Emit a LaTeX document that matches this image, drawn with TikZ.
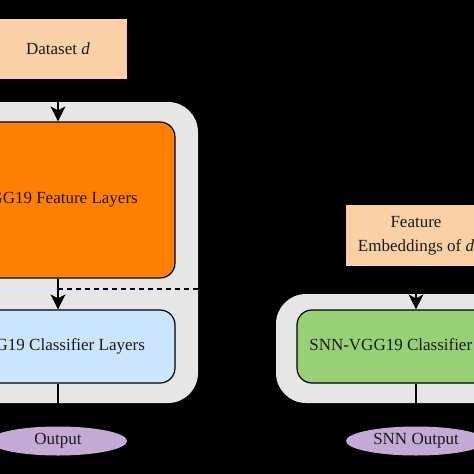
\documentclass[tikz,border=0pt]{standalone}
\usepackage{fontspec}
\setmainfont{Liberation Serif}
\usetikzlibrary{shapes, arrows.meta}
\definecolor{peach}{RGB}{250,208,166}
\definecolor{panelgray}{RGB}{230,230,230}
\definecolor{featorange}{RGB}{255,128,0}
\definecolor{clsblue}{RGB}{204,229,255}
\definecolor{snngreen}{RGB}{151,208,119}
\definecolor{outlilac}{RGB}{196,170,212}
\definecolor{inktext}{RGB}{26,26,26}

\begin{document}
\begin{tikzpicture}[x = 1pt, y = -1pt,
	every node/.style = {font = \fontsize{17}{24}\selectfont,
						 text = inktext,
						 inner sep = 0pt,
						 align = center},
	flow/.style = {-{Stealth[length = 15pt, width = 15pt, inset = 4pt]},
				   line width = 1.2pt}]
	\useasboundingbox (0,0) rectangle (474,474);
	\clip (0,0) rectangle (474,474);
	\fill[black] (0,0) rectangle (474,474);

	% panels
	\draw (49, 252.5) node[fill = panelgray,
					 rounded corners = 30pt,
					 minimum width = 298pt,
					 minimum height = 301pt](panelL) {};
	\draw (438, 348.5) node[fill = panelgray,
					 rounded corners = 30pt,
					 minimum width = 324pt,
					 minimum height = 109pt](panelR) {};

	% inputs
	\draw (58, 49) node[fill = peach,
					 minimum width = 138pt,
					 minimum height = 60pt](data) {Dataset \textit{d}};
	\draw (416, 235.5) node[fill = peach,
					 minimum width = 140pt,
					 minimum height = 61pt](embed) {Feature\\Embeddings of \textit{d}};

	% layers
	\draw (58, 200) node[draw = black,
					 line width = 1.2pt,
					 fill = featorange,
					 rounded corners = 15pt,
					 minimum width = 234pt,
					 minimum height = 156pt](feat) {VGG19 Feature Layers};
	\draw (58, 346.5) node[draw = black,
					 line width = 1.2pt,
					 fill = clsblue,
					 rounded corners = 15pt,
					 minimum width = 234pt,
					 minimum height = 73pt](cls) {VGG19 Classifier Layers};
	\draw (416, 346.5) node[draw = black,
					 line width = 1.2pt,
					 fill = snngreen,
					 rounded corners = 15pt,
					 minimum width = 238pt,
					 minimum height = 73pt](snn) {SNN-VGG19 Classifier Layers};

	% outputs
	\draw (58, 441) node[shape = ellipse,
					 fill = outlilac,
					 minimum width = 138pt,
					 minimum height = 29pt](out) {Output};
	\draw (416, 441) node[shape = ellipse,
					 fill = outlilac,
					 minimum width = 140pt,
					 minimum height = 29pt](snnout) {SNN Output};

	\draw[flow] (data) -- (feat);
	\draw[flow] (feat) -- (cls);
	\draw[flow] (embed) -- (snn);
	\draw[line width = 1.2pt] (cls) -- (out);
	\draw[line width = 1.2pt] (snn) -- (snnout);

	\coordinate (tap) at (58, 289);
	\draw[dashed, dash pattern = on 5pt off 4pt, line width = 1.2pt] (tap) -- (panelL.east |- tap);

\end{tikzpicture}
\end{document}
